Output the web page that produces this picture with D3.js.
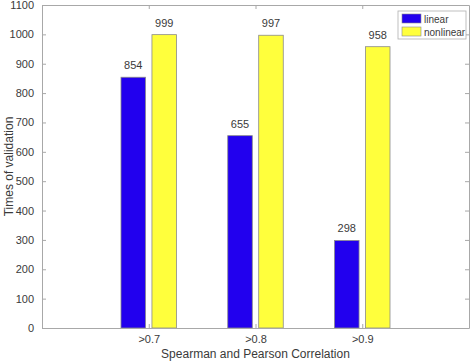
<!DOCTYPE html>
<html>
<head>
<meta charset="utf-8">
<script src="https://cdn.jsdelivr.net/npm/d3@7"></script>
<style>
body { margin: 0; background: #fff; }
text { font-family: "Liberation Sans", Arial, sans-serif; fill: #3a3a3a; }
</style>
</head>
<body>
<script>
const categories = ['>0.7', '>0.8', '>0.9'];
const linearValues = [854, 655, 298];
const nonlinearValues = [999, 997, 958];
const seriesNames = ['linear', 'nonlinear'];
const yTicks = [0, 100, 200, 300, 400, 500, 600, 700, 800, 900, 1000, 1100];

const colors = {linear: '#2200ee', nonlinear: '#ffff3c'};
const axisColor = '#a8a8a8';

const svgSize = {width: 474, height: 361};
const margin = {top: 5, right: 5, bottom: 33, left: 42};
const chartSize = {width: svgSize.width - margin.left - margin.right, height: svgSize.height - margin.top - margin.bottom};

const svg = d3.select('body').append('svg')
	.attr('width', svgSize.width)
	.attr('height', svgSize.height);

// MATLAB-style numeric x axis: categories at 1, 2, 3 with xlim [0, 4]
const x = d3.scaleLinear().domain([0, 4]).range([0, chartSize.width]);
const y = d3.scaleLinear().domain([0, 1100]).range([chartSize.height, 0]);

const step = x(1) - x(0);
const barWidth = step * 0.23;
const offset = step * 0.145;

const g = svg.append('g').attr('transform', `translate(${margin.left}, ${margin.top})`);

const series = [
	{name: 'linear', values: linearValues, dx: -offset},
	{name: 'nonlinear', values: nonlinearValues, dx: offset}
];

series.forEach((s) => {
	g.selectAll(null)
		.data(s.values)
		.enter()
		.append('rect')
		.attr('x', (d, i) => x(i + 1) + s.dx - barWidth / 2)
		.attr('y', (d) => y(d))
		.attr('width', barWidth)
		.attr('height', (d) => chartSize.height - y(d))
		.attr('fill', colors[s.name])
		.attr('stroke', '#8a8a8a')
		.attr('stroke-width', 0.8);

	g.selectAll(null)
		.data(s.values)
		.enter()
		.append('text')
		.attr('x', (d, i) => x(i + 1) + s.dx)
		.attr('y', (d) => y(d) - 8)
		.attr('text-anchor', 'middle')
		.attr('font-size', 11)
		.text((d) => d);
});

// axes, ticks pointing inward like MATLAB
const xAxis = d3.axisBottom(x).tickValues([1, 2, 3]).tickFormat((d) => categories[d - 1]).tickSizeInner(-4).tickSizeOuter(0).tickPadding(7);
const yAxis = d3.axisLeft(y).tickValues(yTicks).tickFormat(d3.format('d')).tickSizeInner(-4).tickSizeOuter(0).tickPadding(8);

const styleAxis = (sel) => {
	sel.select('.domain').attr('stroke', axisColor);
	sel.selectAll('.tick line').attr('stroke', axisColor);
	sel.selectAll('.tick text').attr('font-size', 11).attr('fill', '#3a3a3a')
		.attr('font-family', '"Liberation Sans", Arial, sans-serif');
};

g.append('g').attr('transform', `translate(0, ${chartSize.height})`).call(xAxis).call(styleAxis);
g.append('g').call(yAxis).call(styleAxis);

g.append('g')
	.call(d3.axisTop(x).tickValues([1, 2, 3]).tickFormat('').tickSizeInner(-4).tickSizeOuter(0))
	.call(styleAxis);
g.append('g').attr('transform', `translate(${chartSize.width}, 0)`)
	.call(d3.axisRight(y).tickValues(yTicks).tickFormat('').tickSizeInner(-4).tickSizeOuter(0))
	.call(styleAxis);

// axis labels
svg.append('text')
	.attr('x', margin.left + x(2))
	.attr('y', 358)
	.attr('text-anchor', 'middle')
	.attr('font-size', 12)
	.text('Spearman and Pearson Correlation');

svg.append('text')
	.attr('transform', `translate(13, ${margin.top + chartSize.height / 2}) rotate(-90)`)
	.attr('text-anchor', 'middle')
	.attr('font-size', 12)
	.text('Times of validation');

// legend
const legend = svg.append('g').attr('transform', 'translate(398, 11)');
legend.append('rect')
	.attr('width', 68).attr('height', 28)
	.attr('fill', '#fff').attr('stroke', '#b0b0b0').attr('stroke-width', 0.8);

seriesNames.forEach((name, i) => {
	const row = legend.append('g').attr('transform', `translate(4, ${3 + i * 13})`);
	row.append('rect')
		.attr('width', 19).attr('height', 9)
		.attr('fill', colors[name]).attr('stroke', '#8a8a8a').attr('stroke-width', 0.6);
	row.append('text')
		.attr('x', 22).attr('y', 8.5)
		.attr('font-size', 10)
		.text(name);
});
</script>
</body>
</html>
